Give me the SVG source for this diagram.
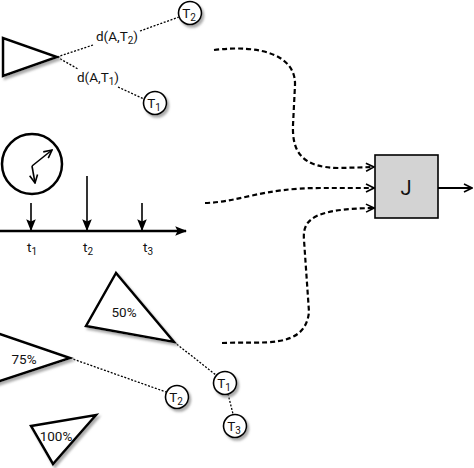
<svg xmlns="http://www.w3.org/2000/svg" width="474" height="468" viewBox="0 0 474 468">
<style>
.sh{stroke:#000;stroke-width:2.5;fill:#fff;filter:url(#ds)}
.tc{stroke:#000;stroke-width:1.6;fill:#fff;filter:url(#ds)}
.dot{stroke:#000;stroke-width:1.3;stroke-dasharray:2,1.6;fill:none}
.cur{stroke:#000;stroke-width:2.2;stroke-dasharray:5,3;fill:none}
.ln{stroke:#000;stroke-width:2;fill:none}
text{font-family:Roboto,"Liberation Sans",sans-serif;fill:#111}
.t{font-size:13.5px;text-anchor:middle}
.s{font-size:10px}
</style>
<defs>
<filter id="ds" x="-30%" y="-30%" width="160%" height="160%">
<feDropShadow dx="2" dy="2.5" stdDeviation="1" flood-color="#888" flood-opacity="0.7"/>
</filter>
<marker id="ah" viewBox="0 0 10 10" refX="9" refY="5" markerWidth="10" markerHeight="10" markerUnits="userSpaceOnUse" orient="auto">
<path d="M1,1 L9,5 L1,9" fill="none" stroke="#000" stroke-width="1.6"/>
</marker>
<marker id="ar" viewBox="0 0 10 10" refX="9" refY="5" markerWidth="12" markerHeight="12" markerUnits="userSpaceOnUse" orient="auto">
<path d="M0,1 L10,5 L0,9 L2,5 Z" fill="#000"/>
</marker>
</defs>

<g id="connectors">
<path class="dot" d="M57,57 L93,45"/>
<path class="dot" d="M140,31 L179,17"/>
<path class="dot" d="M57,57 L78,69"/>
<path class="dot" d="M118,87 L144,99"/>
<path class="dot" d="M174,342 L216,375"/>
<path class="dot" d="M70,358 L166,392"/>
<path class="dot" d="M228,394 L233,414"/>
<path class="cur" marker-end="url(#ah)" d="M214,50 C262,44 296,56 295,85 L293,125 C292,152 302,168 340,168 L374,167"/>
<path class="cur" marker-end="url(#ah)" d="M205,203 C240,202 262,188 320,188 L374,188"/>
<path class="cur" marker-end="url(#ah)" d="M222,343 C262,341 305,350 309,312 L304,240 C302,218 316,209 374,208"/>
<path class="ln" marker-end="url(#ah)" d="M438,188 L472,188"/>
</g>

<g id="antenna">
<polygon class="sh" points="3,38 3,76 57,57"/>
</g>
<g id="label-dAT2"><text x="117" y="41" class="t">d(A,T<tspan class="s" dy="3">2</tspan><tspan dy="-3">)</tspan></text></g>
<g id="label-dAT1"><text x="98" y="82" class="t">d(A,T<tspan class="s" dy="3">1</tspan><tspan dy="-3">)</tspan></text></g>
<g id="T2-top"><circle class="tc" cx="190" cy="13" r="11.5"/><text x="189" y="18" class="t">T<tspan class="s" dy="3">2</tspan></text></g>
<g id="T1-top"><circle class="tc" cx="155" cy="103" r="11.5"/><text x="154" y="108" class="t">T<tspan class="s" dy="3">1</tspan></text></g>

<g id="clock">
<circle cx="32" cy="164" r="30" fill="#fff" stroke="#000" stroke-width="2.5"/>
<path d="M32,166 L52,150" stroke="#000" stroke-width="1.6" marker-end="url(#ah)"/>
<path d="M32,166 L35,183" stroke="#000" stroke-width="1.6" marker-end="url(#ah)"/>
</g>

<g id="timeline">
<path d="M0,231 L186,231" stroke="#000" stroke-width="2.5" marker-end="url(#ar)"/>
<path d="M31,203 L31,230" stroke="#000" stroke-width="1.6" marker-end="url(#ar)"/>
<path d="M87,176 L87,230" stroke="#000" stroke-width="1.6" marker-end="url(#ar)"/>
<path d="M142,203 L142,230" stroke="#000" stroke-width="1.6" marker-end="url(#ar)"/>
<text x="32" y="252" class="t">t<tspan class="s" dy="3">1</tspan></text>
<text x="88" y="252" class="t">t<tspan class="s" dy="3">2</tspan></text>
<text x="148" y="252" class="t">t<tspan class="s" dy="3">3</tspan></text>
</g>

<g id="tri-50"><polygon class="sh" points="116,273 86,326 174,342"/><text x="124" y="317" class="t">50%</text></g>
<g id="tri-75"><polygon class="sh" points="-3,333 -3,382 70,358"/><text x="24" y="364" class="t">75%</text></g>
<g id="tri-100"><polygon class="sh" points="31,426 96,415 53,464"/><text x="56" y="441" class="t">100%</text></g>

<g id="T2-bot"><circle class="tc" cx="177" cy="397" r="11.5"/><text x="176" y="402" class="t">T<tspan class="s" dy="3">2</tspan></text></g>
<g id="T1-bot"><circle class="tc" cx="225" cy="383" r="11.5"/><text x="224" y="388" class="t">T<tspan class="s" dy="3">1</tspan></text></g>
<g id="T3-bot"><circle class="tc" cx="235" cy="426" r="11.5"/><text x="234" y="431" class="t">T<tspan class="s" dy="3">3</tspan></text></g>

<g id="J">
<rect x="375" y="155" width="63" height="63" fill="#d3d3d3" stroke="#000" stroke-width="1.6"/>
<text x="406" y="195" font-size="20" text-anchor="middle">J</text>
</g>
</svg>
